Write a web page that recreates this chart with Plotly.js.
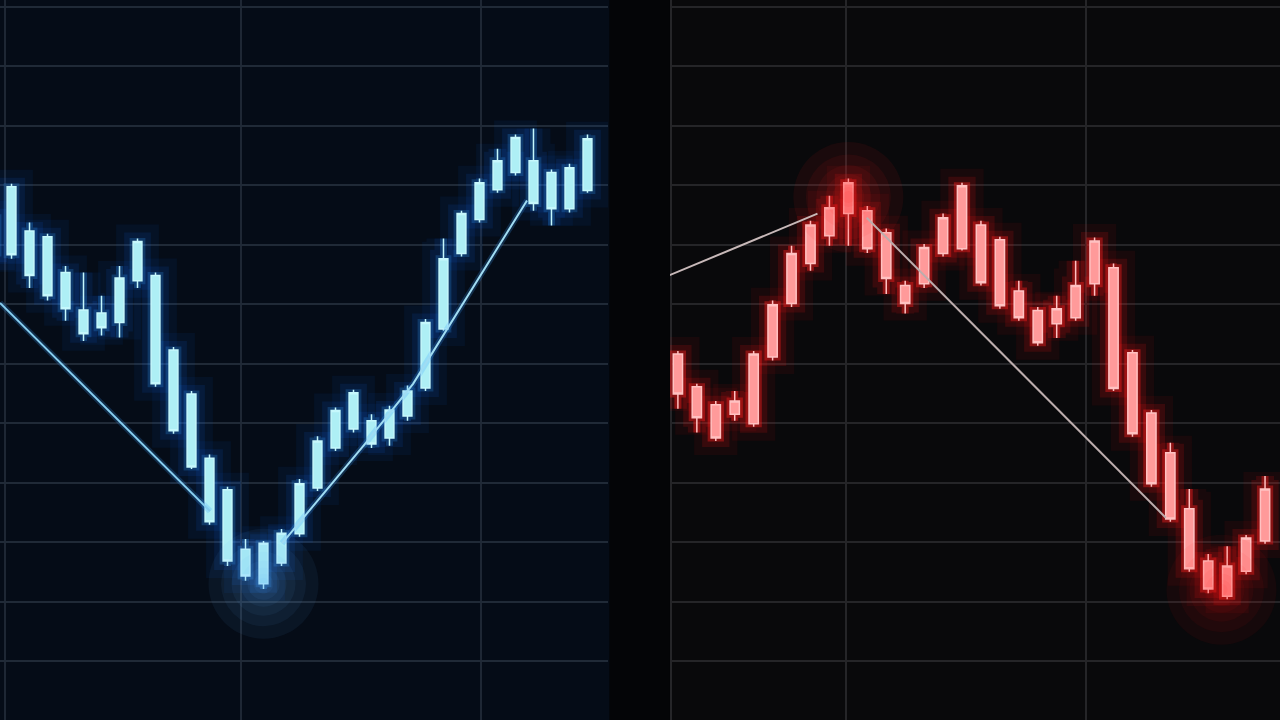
<!DOCTYPE html>
<html>
<head>
<meta charset="utf-8">
<script src="https://cdn.plot.ly/plotly-3.0.1.min.js"></script>
<style>html,body{margin:0;padding:0;background:#040507;}#chart{width:1280px;height:720px;}</style>
</head>
<body>
<div id="chart"></div>
<script>
// ---- Left (blue) candlestick series ----
const leftX     = [-1,0,1,2,3,4,5,6,7,8,9,10,11,12,13,14,15,16,17,18,19,20,21,22,23,24,25,26,27,28,29,30,31,32];
const leftOpen  = [84.5,89.7,82.3,81.3,75.3,69.0,68.5,66.9,73.9,74.8,62.3,54.9,44.1,38.8,28.8,23.0,26.5,31.4,39.1,45.8,49.0,50.4,47.5,51.2,55.9,65.8,78.5,84.2,89.2,92.1,94.1,92.1,86.0,89.1];
const leftHigh  = [85.7,90.2,83.7,81.8,76.4,75.3,71.4,76.4,81.0,75.3,62.8,55.4,44.7,39.3,30.5,30.2,32.2,40.6,47.8,52.6,55.6,51.5,52.9,56.3,67.5,81.0,85.7,91.1,96.1,98.5,99.5,92.6,93.6,98.5];
const leftLow   = [77.6,77.6,72.7,70.6,67.2,63.8,64.7,64.4,72.7,56.1,48.2,42.3,32.9,26.0,23.5,22.1,26.0,30.9,38.6,45.3,48.4,45.8,46.2,50.4,55.4,65.5,78.0,83.7,88.7,91.6,85.7,83.2,85.4,88.7];
const leftClose = [78.6,78.3,74.8,71.4,69.2,65.0,66.0,74.4,80.5,56.6,48.7,42.6,33.4,26.8,24.3,29.8,31.5,39.8,47.0,52.1,55.1,46.5,52.2,55.4,66.9,77.6,85.2,90.4,94.1,98.0,86.9,86.0,92.9,97.8];
// left trend line (two legs of the V)
const leftTrendAX = [-0.64, 11.03];
const leftTrendAY = [70.2, 35.2];
const leftTrendBX = [15.03, 19.64, 22.31, 28.64];
const leftTrendBY = [29.8, 46.5, 56.6, 87.4];

// ---- Right (red) candlestick series ----
const rightX     = [0,1,2,3,4,5,6,7,8,9,10,11,12,13,14,15,16,17,18,19,20,21,22,23,24,25,26,27,28,29,30,31];
const rightOpen  = [61.6,56.1,53.1,51.5,49.9,61.1,70.1,76.8,81.5,85.2,85.7,82.0,73.1,73.4,78.5,79.3,83.3,80.8,72.2,68.9,66.7,67.7,73.4,76.1,61.8,51.7,45.0,35.6,26.8,20.9,25.1,30.2];
const rightHigh  = [62.1,56.6,53.7,55.4,62.1,70.6,79.8,84.0,88.2,91.1,86.5,82.7,73.9,80.1,85.2,90.4,84.0,81.3,73.9,69.5,71.4,77.3,81.2,76.8,62.3,52.2,46.7,38.9,28.0,29.3,31.2,41.1];
const rightLow   = [52.4,48.4,47.0,50.4,49.4,60.5,69.5,75.6,79.8,79.8,78.6,71.7,68.4,72.7,78.0,79.0,73.1,69.2,67.2,63.0,64.3,67.2,71.4,55.4,47.7,39.3,33.4,25.0,21.4,20.4,24.6,29.7];
const rightClose = [54.9,50.9,47.5,53.7,61.6,69.9,78.5,83.3,86.2,90.4,79.3,74.3,70.1,79.5,84.5,89.9,73.6,69.7,67.7,63.5,69.2,73.1,80.6,55.8,48.2,39.8,33.9,25.5,22.1,26.0,30.7,38.9];
// right trend lines
const rightTrendAX = [-1.01, 7.37];
const rightTrendAY = [74.1, 85.2];
const rightTrendBX = [9.97, 25.76];
const rightTrendBY = [84.5, 34.1];

function candle(x, o, h, l, c, xa, ya, lineColor, lineWidth, fill) {
  return {
    type: 'candlestick', x: x, open: o, high: h, low: l, close: c,
    xaxis: xa, yaxis: ya, whiskerwidth: 0,
    increasing: {line: {color: lineColor, width: lineWidth}, fillcolor: fill},
    decreasing: {line: {color: lineColor, width: lineWidth}, fillcolor: fill},
    hoverinfo: 'skip', showlegend: false
  };
}
function line(x, y, xa, ya, color, width) {
  return {type: 'scatter', mode: 'lines', x: x, y: y, xaxis: xa, yaxis: ya, cliponaxis: true,
    line: {color: color, width: width}, hoverinfo: 'skip', showlegend: false};
}
function glowDot(x, y, xa, ya, rgb, peak) {
  const sizes = [110, 85, 64, 46, 32, 20, 12];
  return {type: 'scatter', mode: 'markers', x: sizes.map(() => x), y: sizes.map(() => y), xaxis: xa, yaxis: ya,
    marker: {size: sizes, color: 'rgba(' + rgb + ',' + peak + ')', line: {width: 0}},
    hoverinfo: 'skip', showlegend: false};
}

const data = [
  // left glow layers
  candle(leftX, leftOpen, leftHigh, leftLow, leftClose, 'x', 'y', 'rgba(20,100,230,0.07)', 34, 'rgba(20,100,230,0.07)'),
  candle(leftX, leftOpen, leftHigh, leftLow, leftClose, 'x', 'y', 'rgba(20,110,255,0.10)', 18, 'rgba(20,110,255,0.10)'),
  candle(leftX, leftOpen, leftHigh, leftLow, leftClose, 'x', 'y', 'rgba(50,160,255,0.22)', 7, 'rgba(50,160,255,0.22)'),
  glowDot(14, 23.0, 'x', 'y', '90,180,255', 0.09),
  line(leftTrendAX, leftTrendAY, 'x', 'y', 'rgba(60,160,255,0.22)', 6),
  line(leftTrendBX, leftTrendBY, 'x', 'y', 'rgba(60,160,255,0.22)', 6),
  line(leftTrendAX, leftTrendAY, 'x', 'y', '#86cdef', 2),
  line(leftTrendBX, leftTrendBY, 'x', 'y', '#a0dcf3', 2),
  candle(leftX, leftOpen, leftHigh, leftLow, leftClose, 'x', 'y', '#c6f8fc', 1.5, '#aeeff5'),
  // right glow layers
  candle(rightX, rightOpen, rightHigh, rightLow, rightClose, 'x2', 'y2', 'rgba(230,10,10,0.07)', 34, 'rgba(230,10,10,0.07)'),
  candle(rightX, rightOpen, rightHigh, rightLow, rightClose, 'x2', 'y2', 'rgba(255,20,20,0.14)', 18, 'rgba(255,20,20,0.14)'),
  candle(rightX, rightOpen, rightHigh, rightLow, rightClose, 'x2', 'y2', 'rgba(255,30,30,0.40)', 7, 'rgba(255,30,30,0.40)'),
  glowDot(9, 88.0, 'x2', 'y2', '255,30,30', 0.10),
  glowDot(28.7, 22.0, 'x2', 'y2', '255,25,25', 0.08),
  line(rightTrendAX, rightTrendAY, 'x2', 'y2', '#c8b9b9', 2),
  line(rightTrendBX, rightTrendBY, 'x2', 'y2', '#bcadad', 2),
  candle(rightX, rightOpen, rightHigh, rightLow, rightClose, 'x2', 'y2', '#ffc2c2', 1.5, '#ff9a9a')
];

const gridCommon = {showticklabels: false, zeroline: false, showline: false, ticks: '', fixedrange: true};
const layout = {
  width: 1280, height: 720,
  margin: {l: 0, r: 0, t: 0, b: 0, pad: 0},
  paper_bgcolor: '#040507',
  plot_bgcolor: 'rgba(0,0,0,0)',
  showlegend: false,
  hovermode: false,
  xaxis: Object.assign({}, gridCommon, {domain: [0, 0.475], range: [-0.64, 33.14], rangeslider: {visible: false},
    tickmode: 'array', tickvals: [-0.36, 12.75, 26.08], showgrid: true, gridcolor: '#1e2734', gridwidth: 2, anchor: 'y'}),
  yaxis: Object.assign({}, gridCommon, {domain: [0, 1], range: [0.1, 121.1], tick0: 10, dtick: 10, anchor: 'x',
    showgrid: true, gridcolor: '#202a37', gridwidth: 2}),
  xaxis2: Object.assign({}, gridCommon, {domain: [0.5234, 1], range: [-0.42, 31.79], rangeslider: {visible: false},
    tickmode: 'array', tickvals: [-0.36, 8.86, 21.53], showgrid: true, gridcolor: '#252528', gridwidth: 2, anchor: 'y2'}),
  yaxis2: Object.assign({}, gridCommon, {domain: [0, 1], range: [0.1, 121.1], tick0: 10, dtick: 10, anchor: 'x2',
    showgrid: true, gridcolor: '#252528', gridwidth: 2}),
  shapes: [
    {type: 'rect', xref: 'paper', yref: 'paper', x0: 0, x1: 0.476, y0: 0, y1: 1, fillcolor: '#050c17', line: {width: 0}, layer: 'below'},
    {type: 'rect', xref: 'paper', yref: 'paper', x0: 0.5234, x1: 1, y0: 0, y1: 1, fillcolor: '#09090b', line: {width: 0}, layer: 'below'}
  ]
};

Plotly.newPlot('chart', data, layout, {staticPlot: true, displayModeBar: false});
</script>
</body>
</html>
